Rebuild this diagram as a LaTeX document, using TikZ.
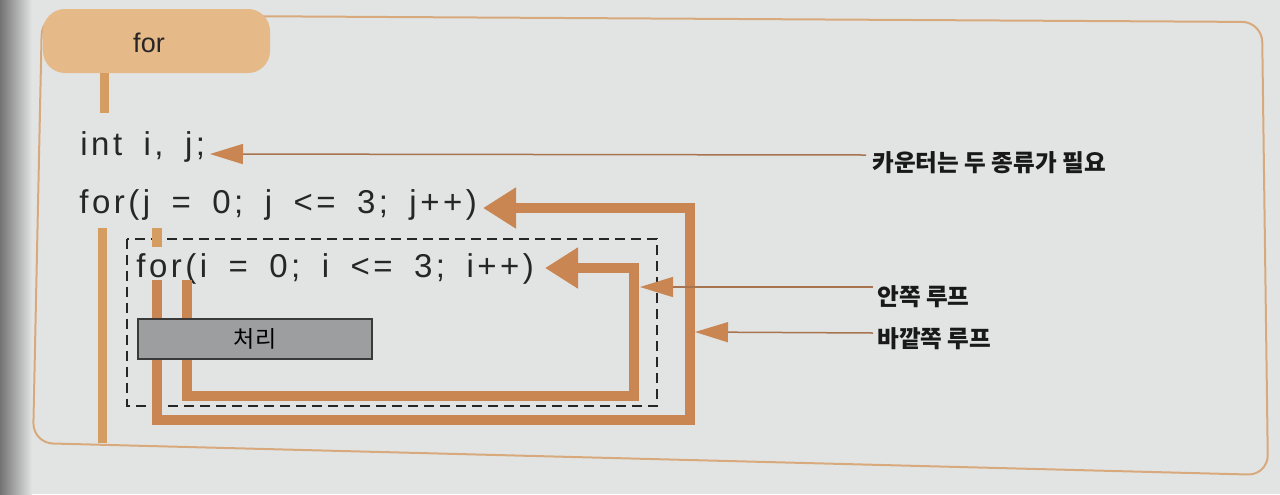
\documentclass[tikz,border=0pt]{standalone}
\usepackage{fontspec}
\setmainfont{Liberation Sans}
\newfontfamily\codefont{Liberation Sans}[LetterSpace=10.5,WordSpace=1.7]
\newfontfamily\kr{Noto Sans CJK KR}
\usetikzlibrary{arrows.meta}
\definecolor{pagebg}{HTML}{E2E4E3}
\definecolor{tabfill}{HTML}{E5B988}
\definecolor{loopc}{HTML}{D69D62}
\definecolor{loopd}{HTML}{C98653}
\definecolor{framec}{HTML}{D8A97C}
\definecolor{leader}{HTML}{A87450}
\definecolor{boxfill}{HTML}{9C9EA0}
\definecolor{boxline}{HTML}{3A3A3A}
\tikzset{
  codetext/.style={font=\codefont\fontsize{16.5pt}{18pt}\selectfont, text=black!85, inner sep=0pt, anchor=base west},
  labeltext/.style={font=\kr\bfseries\fontsize{11.8pt}{14pt}\selectfont, text=black!90, inner sep=0pt, anchor=west},
  flowline/.style={draw=loopc, line width=4.5pt},
  loopline/.style={draw=loopd, line width=5pt, miter limit=10, -{Triangle[length=16.5pt,width=19.5pt]}},
  leaderline/.style={draw=leader, line width=0.75pt, -{Triangle[length=16.5pt,width=10pt,color=loopd]}},
  tabbox/.style={fill=tabfill, rounded corners=11pt, inner sep=0pt, minimum width=113.5pt, minimum height=32pt},
  procbox/.style={fill=boxfill, draw=boxline, line width=0.6pt, inner sep=0pt, minimum width=117pt, minimum height=20pt, font=\kr\fontsize{11.5pt}{13pt}\selectfont},
  innerbox/.style={draw=black!85, line width=1pt, dash pattern=on 5pt off 3pt}
}
\begin{document}
\begin{tikzpicture}[x=0.5pt,y=-0.5pt]
\useasboundingbox (0,0) rectangle (1280,494);
\fill[pagebg] (0,0) rectangle (1280,494);
\shade[left color=black!55, right color=pagebg] (0,0) rectangle (32,494);
% outer frame
\draw[framec, line width=1pt, rounded corners=10pt] (42,15) -- (1262,22) -- (1268,475) -- (33,443) -- cycle;
% tab
\node[tabbox] (tab) at (156.5,41) {};
\node[font=\fontsize{13.5pt}{15pt}\selectfont, inner sep=0pt, text=black!85] (fortxt) at (149,43) {for};
\coordinate (stemtop) at (104.5,73);
\coordinate (stembot) at (104.5,113);
\draw[flowline] (stemtop) -- (stembot);
% main flow line
\coordinate (flowtop) at (102,228);
\coordinate (flowbot) at (102,443);
\draw[flowline] (flowtop) -- (flowbot);
% code lines
\node[codetext] (decl) at (80,155) {int i, j;};
\node[codetext] (outerfor) at (79,213) {for(j = 0; j <= 3; j++)};
\node[codetext] (innerfor) at (136,277) {for(i = 0; i <= 3; i++)};
% dashed inner box
\draw[innerbox] (127,239) rectangle (657,406);
% outer loop
\coordinate (ostub1) at (157,228);
\coordinate (ostub2) at (157,247);
\draw[draw=loopc, line width=5pt] (ostub1) -- (ostub2);
\coordinate (ostart) at (157,280);
\coordinate (obl) at (157,420);
\coordinate (obr) at (690,420);
\coordinate (otr) at (690,208);
\coordinate (otip) at (483,208);
\draw[loopline] (ostart) -- (obl) -- (obr) -- (otr) -- (otip);
% inner loop
\coordinate (istart) at (187,280);
\coordinate (ibl) at (187,396);
\coordinate (ibr) at (634,396);
\coordinate (itr) at (634,268);
\coordinate (itip) at (545,268);
\draw[loopline] (istart) -- (ibl) -- (ibr) -- (itr) -- (itip);
% processing box
\node[procbox] (proc) at (255,339) {처리};
% labels
\node[labeltext] (lcount) at (872,163) {카운터는 두 종류가 필요};
\node[labeltext] (linner) at (877,297) {안쪽 루프};
\node[labeltext] (louter) at (877,339) {바깥쪽 루프};
\coordinate (tcount) at (210,154);
\coordinate (tinner) at (640,287);
\coordinate (touter) at (695,332);
\coordinate (scount) at (866,155);
\coordinate (sinner) at (873,287);
\coordinate (souter) at (873,333);
\draw[leaderline] (scount) -- (tcount);
\draw[leaderline] (sinner) -- (tinner);
\draw[leaderline] (souter) -- (touter);
\end{tikzpicture}
\end{document}
